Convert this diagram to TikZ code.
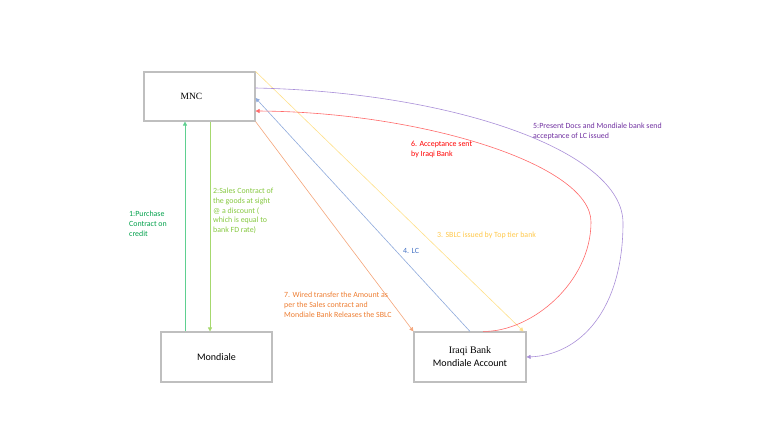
\documentclass[tikz,border=0pt]{standalone}
\usepackage{fontspec}
\setmainfont{Carlito}
\newfontfamily\boxserif{Liberation Serif}
\usetikzlibrary{arrows.meta}
\definecolor{cgreen}{HTML}{5FD090}
\definecolor{cgreentext}{HTML}{00A04A}
\definecolor{clime}{HTML}{A6D86E}
\definecolor{climetext}{HTML}{86C840}
\definecolor{cyellow}{HTML}{FFE08A}
\definecolor{cyellowtext}{HTML}{FFC84A}
\definecolor{cblue}{HTML}{8FAADC}
\definecolor{cbluetext}{HTML}{4472C4}
\definecolor{corange}{HTML}{F4A57A}
\definecolor{corangetext}{HTML}{ED7D31}
\definecolor{cred}{HTML}{FF6A6A}
\definecolor{credtext}{HTML}{FF0000}
\definecolor{cpurple}{HTML}{A98FD8}
\definecolor{cpurpletext}{HTML}{7030A0}
\definecolor{cboxline}{HTML}{BFBFBF}
\tikzset{
  boxnode/.style={draw=cboxline, line width=1.1pt, minimum width=111pt, minimum height=49pt, inner sep=0pt, font=\fontsize{10}{13}\selectfont},
  conn/.style={line width=0.6pt, -{Triangle[width=4pt,length=4pt]}},
  lbl/.style={anchor=north west, align=left, inner sep=0pt, font=\fontsize{7.9}{9.75}\selectfont}
}
\begin{document}
\begin{tikzpicture}[x=1pt,y=-1pt]
\useasboundingbox (0,0) rectangle (768,433);
\node[boxnode] (mnc) at (199.5,96.5) {};
\node[font=\boxserif\fontsize{9.5}{12}\selectfont, inner sep=0pt] (mnct) at (191.5,96) {MNC};
\node[boxnode, minimum height=50pt] (mond) at (216.5,357) {Mondiale};
\node[boxnode, minimum width=112pt, minimum height=50pt, align=center] (iraq) at (470,357) {{\boxserif Iraqi Bank}\\Mondiale Account};

% 1 green up
\draw[conn, cgreen] ([xshift=-31.5pt]mond.north) coordinate (g1) -- (g1 |- mnc.south);
% 2 lime down
\draw[conn, clime] ([xshift=10.5pt]mnc.south) coordinate (g2) -- (g2 |- mond.north);
% 3 yellow
\draw[conn, cyellow] (mnc.north east) -- ([xshift=-3pt]iraq.north east);
% 4 blue
\draw[conn, cblue] (iraq.north) -- ([yshift=-1.5pt]mnc.east);
% 7 orange
\draw[conn, corange] (mnc.south east) -- (iraq.north west);
% 6 red
\coordinate (r1) at (591,222);
\draw[conn, cred] ([xshift=13pt]iraq.north) .. controls (532,332) and (591,282) .. (r1)
  .. controls (591,164) and (420,112) .. ([yshift=-14.5pt]mnc.east);
% 5 purple
\coordinate (p1) at (623,223);
\draw[conn, cpurple] ([yshift=8.5pt]mnc.east) .. controls (450,92) and (623,150) .. (p1)
  .. controls (623,310) and (580,355) .. (iraq.east);

% labels
\node[lbl, text=cgreentext] (l1) at (129,211) {1:Purchase\\Contract on\\credit};
\node[lbl, text=climetext] (l2) at (213,188) {2:Sales Contract of\\the goods at sight\\@ a discount (\\which is equal to\\bank FD rate)};
\node[lbl, text=cyellowtext] (l3) at (437,232) {3. SBLC issued by Top tier bank};
\node[lbl, text=cbluetext] (l4) at (403,248) {4. LC};
\node[lbl, text=cpurpletext] (l5) at (533,123) {5:Present Docs and Mondiale bank send\\acceptance of LC issued};
\node[lbl, text=credtext] (l6) at (411,141) {6. Acceptance sent\\by Iraqi Bank};
\node[lbl, text=corangetext] (l7) at (284,292) {7. Wired transfer the Amount as\\per the Sales contract and\\Mondiale Bank Releases the SBLC};
\end{tikzpicture}
\end{document}
